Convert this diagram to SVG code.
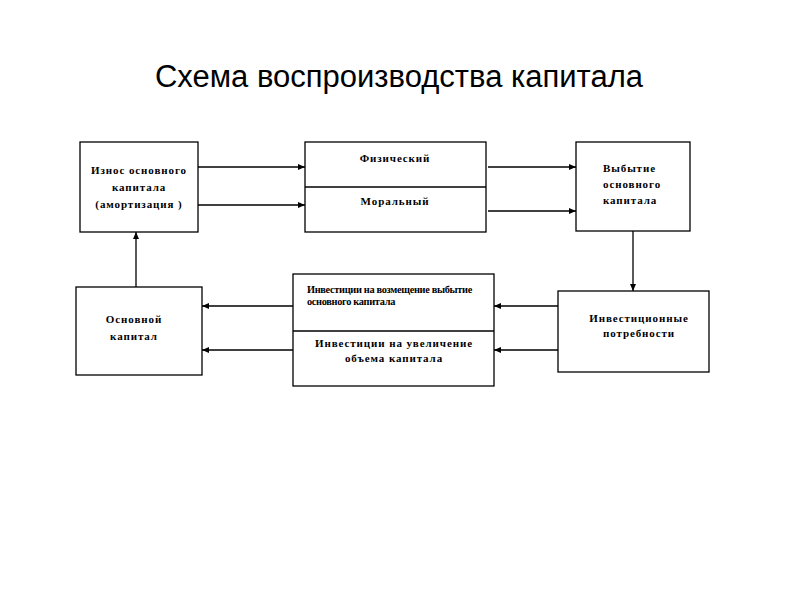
<svg xmlns="http://www.w3.org/2000/svg" width="800" height="600" viewBox="0 0 800 600">
<style>
.box{fill:#fff;stroke:#000;stroke-width:1.3}
.t{font-family:"Liberation Serif","DejaVu Serif",serif;font-weight:bold;font-size:11px;letter-spacing:0.9px;fill:#000}
.s{font-family:"Liberation Serif","DejaVu Serif",serif;font-weight:bold;font-size:9.5px;letter-spacing:-0.3px;fill:#000}
.title{font-family:"Liberation Sans",Arial,sans-serif;font-size:31px;fill:#000}
.c{stroke:#000;stroke-width:1.3;fill:none;marker-end:url(#ah)}
</style>
<defs>
<marker id="ah" markerWidth="7" markerHeight="6" refX="7" refY="3" orient="auto" markerUnits="userSpaceOnUse">
<path d="M0,0 L7,3 L0,6 Z" fill="#000"/>
</marker>
</defs>
<rect width="800" height="600" fill="#fff"/>
<text class="title" x="399" y="87" text-anchor="middle">Схема воспроизводства капитала</text>
<g id="iznos">
<rect class="box" x="80" y="142" width="118" height="90"/>
<text class="t" x="139" y="174" text-anchor="middle">Износ основного</text>
<text class="t" x="139" y="191" text-anchor="middle">капитала</text>
<text class="t" x="139" y="208" text-anchor="middle">(амортизация )</text>
</g>
<g id="vid">
<rect class="box" x="305" y="142" width="181" height="90"/>
<line x1="305" y1="187" x2="486" y2="187" stroke="#000" stroke-width="1.3"/>
<text class="t" x="395" y="162" text-anchor="middle">Физический</text>
<text class="t" x="395" y="205" text-anchor="middle">Моральный</text>
</g>
<g id="vybytie">
<rect class="box" x="576" y="142" width="114" height="89"/>
<text class="t" x="603" y="172">Выбытие</text>
<text class="t" x="603" y="188">основного</text>
<text class="t" x="603" y="204">капитала</text>
</g>
<g id="potrebnosti">
<rect class="box" x="558" y="291" width="151" height="81"/>
<text class="t" x="639" y="322" text-anchor="middle">Инвестиционные</text>
<text class="t" x="639" y="337" text-anchor="middle">потребности</text>
</g>
<g id="investicii">
<rect class="box" x="293" y="274" width="201" height="112"/>
<line x1="293" y1="331" x2="494" y2="331" stroke="#000" stroke-width="1.3"/>
<text class="s" x="307" y="293" textLength="165" lengthAdjust="spacingAndGlyphs">Инвестиции на возмещение выбытие</text>
<text class="s" x="307" y="305" textLength="88" lengthAdjust="spacingAndGlyphs">основного капитала</text>
<text class="t" x="394" y="347" text-anchor="middle">Инвестиции на увеличение</text>
<text class="t" x="394" y="362" text-anchor="middle">объема капитала</text>
</g>
<g id="osnovnoy">
<rect class="box" x="76" y="287" width="126" height="88"/>
<text class="t" x="134" y="323" text-anchor="middle">Основной</text>
<text class="t" x="134" y="340" text-anchor="middle">капитал</text>
</g>
<g id="connectors">
<line class="c" x1="198" y1="167" x2="305" y2="167"/>
<line class="c" x1="198" y1="205" x2="305" y2="205"/>
<line class="c" x1="488" y1="167" x2="576" y2="167"/>
<line class="c" x1="488" y1="211" x2="576" y2="211"/>
<line class="c" x1="633" y1="231" x2="633" y2="291"/>
<line class="c" x1="558" y1="306" x2="494" y2="306"/>
<line class="c" x1="558" y1="350" x2="494" y2="350"/>
<line class="c" x1="293" y1="306" x2="202" y2="306"/>
<line class="c" x1="293" y1="350" x2="202" y2="350"/>
<line class="c" x1="136" y1="287" x2="136" y2="232"/>
</g>
</svg>
